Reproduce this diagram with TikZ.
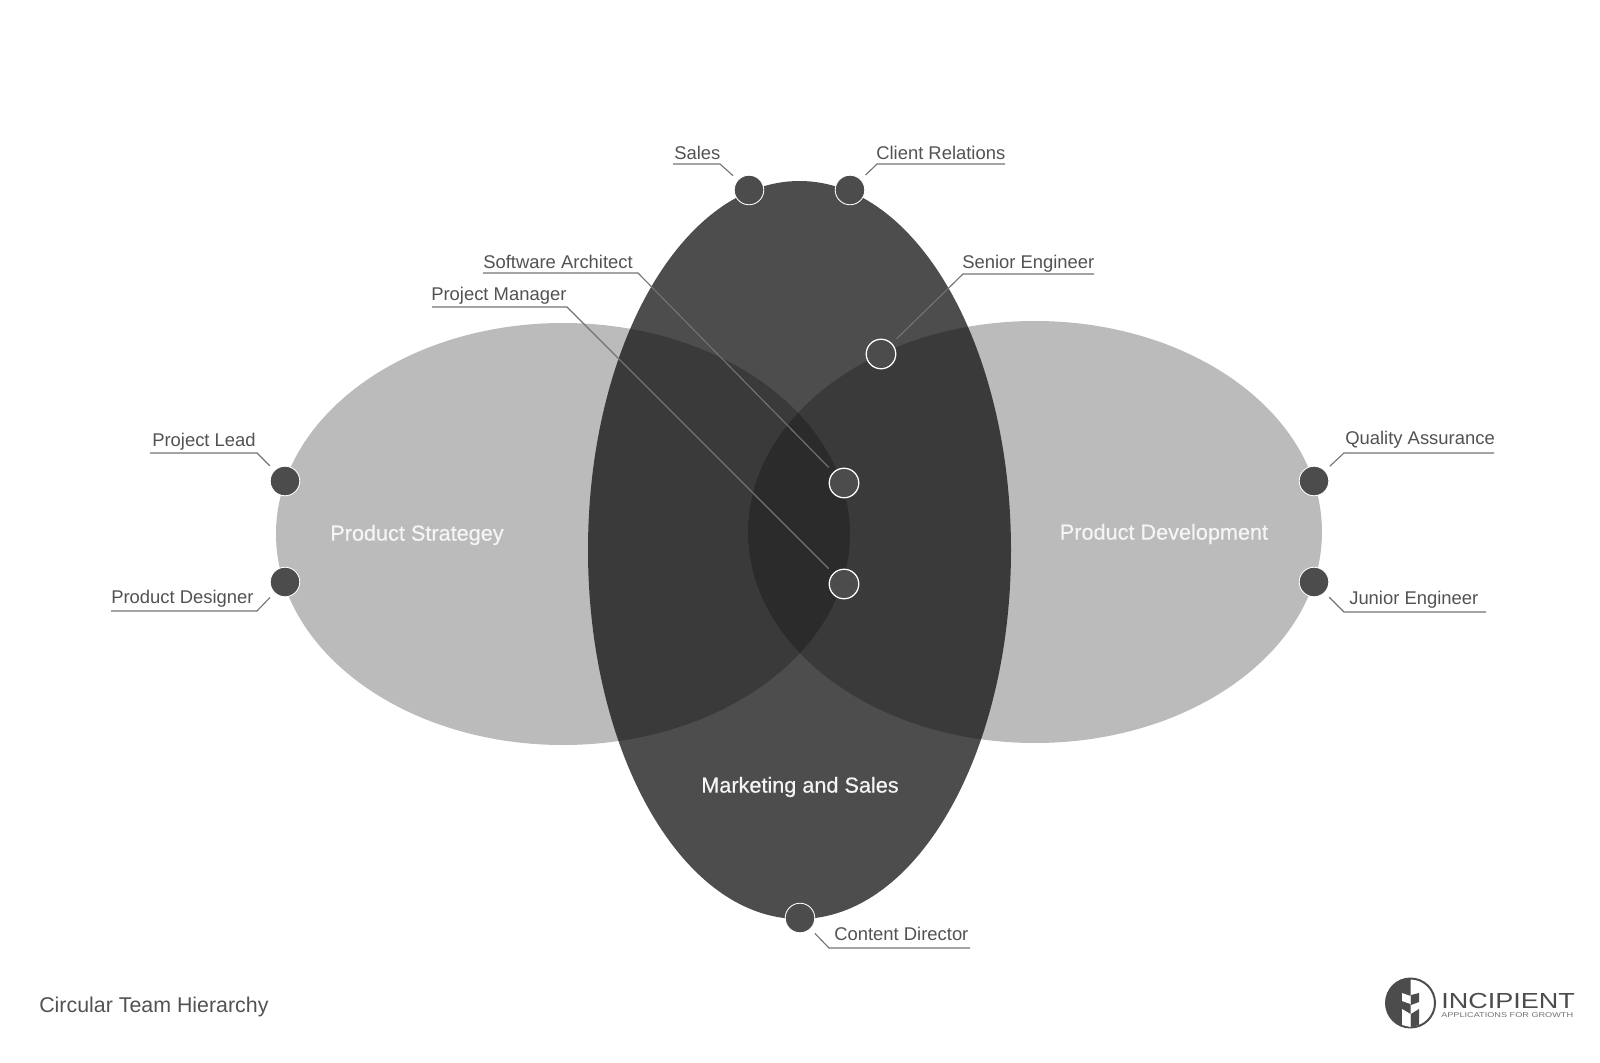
\documentclass[tikz,border=0pt]{standalone}
\usepackage{fontspec}
\setmainfont{Liberation Sans}
\newfontfamily\areafont[FakeBold=0.5]{Liberation Sans}
\tikzset{
    x=0.025cm, y=-0.025cm,
    petal/.style={fill=black, fill opacity=0.265},
    tallpetal/.style={fill=black!97, fill opacity=0.72},
    dot/.style={circle, fill=black!70, draw=white, line width=0.6pt, minimum size=21pt, inner sep=0pt},
    hub/.style={dot, line width=0.9pt},
    leader/.style={draw=black!55, line width=0.8pt, shorten <=4.5pt},
    lab/.style={anchor=base west, text=black!68, font=\fontsize{13.1}{15}\selectfont, inner sep=0pt},
    area/.style={text=white!96!black, font=\areafont\fontsize{15.4}{18}\selectfont, inner sep=0pt}
}
\begin{document}
\begin{tikzpicture}
    \useasboundingbox (0,0) rectangle (1600,1063);
    \fill[petal] (563,534) ellipse [x radius=287, y radius=211];
    \fill[petal] (1035,532) ellipse [x radius=287, y radius=211];
    \fill[tallpetal] (799.5,550) ellipse [x radius=211.5, y radius=369];

    \node[area] (strategy) at (417,535) {Product Strategey};
    \node[area] (development) at (1164,534) {Product Development};
    \node[area] (marketing) at (800,787) {Marketing and Sales};

    \node[dot] (sales) at (749,190) {};
    \node[dot] (client) at (850,190) {};
    \node[hub] (senior) at (881,354) {};
    \node[hub] (architect) at (844,483) {};
    \node[hub] (manager) at (844,584) {};
    \node[dot] (lead) at (285,481) {};
    \node[dot] (designer) at (285,582) {};
    \node[dot] (quality) at (1314,481) {};
    \node[dot] (junior) at (1314,582) {};
    \node[dot] (content) at (800,918) {};

    \node[lab] (saleslab) at (674,160) {Sales};
    \node[lab] (clientlab) at (876,160) {Client Relations};
    \node[lab] (seniorlab) at (962,269) {Senior Engineer};
    \node[lab] (architectlab) at (483,269) {Software Architect};
    \node[lab] (managerlab) at (431,301) {Project Manager};
    \node[lab] (leadlab) at (152,447) {Project Lead};
    \node[lab] (designerlab) at (111,603) {Product Designer};
    \node[lab] (qualitylab) at (1345,445) {Quality Assurance};
    \node[lab] (juniorlab) at (1349,604) {Junior Engineer};
    \node[lab] (contentlab) at (834,940) {Content Director};

    \coordinate (saleselbow) at (720,164);
    \coordinate (salesend) at (673,164);
    \coordinate (clientelbow) at (877,164);
    \coordinate (clientend) at (1005,164);
    \coordinate (seniorelbow) at (963,274);
    \coordinate (seniorend) at (1094,274);
    \coordinate (architectelbow) at (638,273);
    \coordinate (architectend) at (483,273);
    \coordinate (managerelbow) at (567,307);
    \coordinate (managerend) at (432,307);
    \coordinate (leadelbow) at (257,453);
    \coordinate (leadend) at (150,453);
    \coordinate (designerelbow) at (257,611);
    \coordinate (designerend) at (111,611);
    \coordinate (qualityelbow) at (1344,453);
    \coordinate (qualityend) at (1494,453);
    \coordinate (juniorelbow) at (1344,612);
    \coordinate (juniorend) at (1486,612);
    \coordinate (contentelbow) at (829,948);
    \coordinate (contentend) at (970,948);

    \draw[leader] (sales) -- (saleselbow) -- (salesend);
    \draw[leader] (client) -- (clientelbow) -- (clientend);
    \draw[leader] (senior) -- (seniorelbow) -- (seniorend);
    \draw[leader] (architect) -- (architectelbow) -- (architectend);
    \draw[leader] (manager) -- (managerelbow) -- (managerend);
    \draw[leader] (lead) -- (leadelbow) -- (leadend);
    \draw[leader] (designer) -- (designerelbow) -- (designerend);
    \draw[leader] (quality) -- (qualityelbow) -- (qualityend);
    \draw[leader] (junior) -- (juniorelbow) -- (juniorend);
    \draw[leader] (content) -- (contentelbow) -- (contentend);

    \node[anchor=west, text=black!68, font=\fontsize{15.2}{18}\selectfont, inner sep=0pt] (title) at (39,1007) {Circular Team Hierarchy};

    \fill[black!70] (1410.5,1028) arc (90:270:25) -- cycle;
    \draw[black!70, line width=1.4pt] (1410.5,1003) circle (24.5);
    \fill[white] (1402,993) -- (1410.5,996) -- (1410.5,1004) -- (1402,1001) -- cycle;
    \fill[white] (1402,1009) -- (1410.5,1014) -- (1410.5,1027) -- (1402,1025) -- cycle;
    \fill[black!70] (1411,995) -- (1419,993) -- (1419,1002) -- (1411,1005) -- cycle;
    \fill[black!70] (1411,1014) -- (1419,1009) -- (1419,1025) -- (1411,1027) -- cycle;
    \node[anchor=base west, text=black!70, font=\fontsize{15.5}{17}\selectfont, inner sep=0pt] (brand) at (1441,1008) {\scalebox{1.24}[1]{INCIPIENT}};
    \node[anchor=base west, text=black!55, font=\fontsize{5}{6}\selectfont, inner sep=0pt] (slogan) at (1441,1017) {\scalebox{1.3}[1]{APPLICATIONS FOR GROWTH}};
\end{tikzpicture}
\end{document}
